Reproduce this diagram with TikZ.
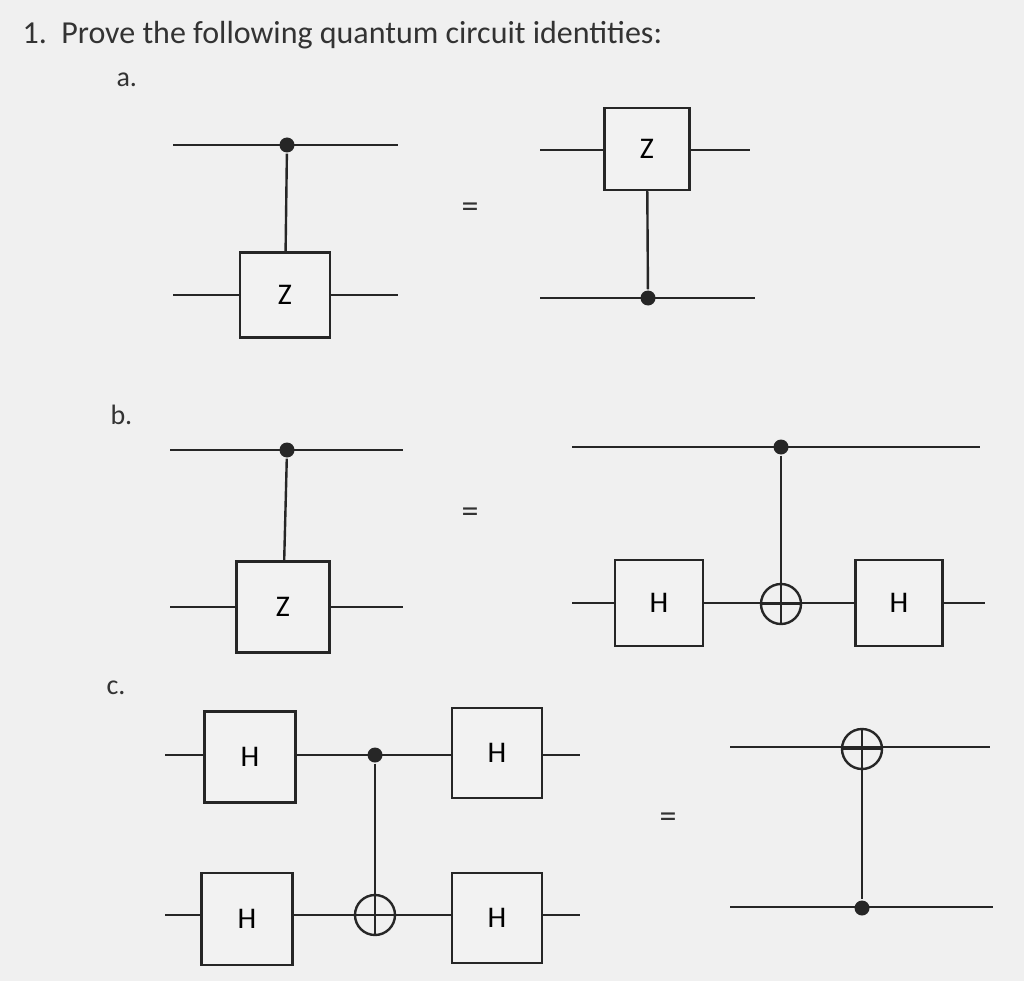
\documentclass[tikz,border=0pt]{standalone}
\usepackage{fontspec}
\setmainfont{Carlito}
\begin{document}
\begin{tikzpicture}[x=1pt,y=-1pt,line width=2.4pt,
  wire/.style={draw=black!85},
  gate/.style={draw=black!85,fill=white!90!gray,minimum width=88pt,minimum height=86pt,inner sep=0,font=\fontsize{30}{30}\selectfont},
  ctl/.style={circle,fill=black!85,minimum size=15pt,inner sep=0},
  targ/.style={circle,draw=black!85,minimum size=40pt,inner sep=0},
  lbl/.style={font=\fontsize{28}{28}\selectfont,text=black!80,anchor=west},
  eq/.style={font=\fontsize{34}{34}\selectfont,text=black!80}]
\fill[gray!12] (0,0) rectangle (1024,981);
\useasboundingbox (0,0) rectangle (1024,981);
\node[lbl,font=\fontsize{32}{32}\selectfont] (t) at (18,35) {1.\ \ Prove the following quantum circuit identities:};
\node[lbl] (la) at (112,80) {a.};
\node[lbl] (lb) at (106,415) {b.};
\node[lbl] (lc) at (102,688) {c.};
% a left
\coordinate (a1) at (173,145); \coordinate (a2) at (398,145);
\coordinate (a3) at (173,295); \coordinate (a4) at (398,295);
\draw[wire] (a1)--(a2); \draw[wire] (a3)--(a4);
\node[ctl] (ad) at (287,145) {};
\node[gate,minimum width=90pt,minimum height=85pt] (az) at (285,295) {Z};
\draw[wire] (ad)--(az);
\node[eq] (e1) at (470,210) {=};
% a right
\coordinate (b1) at (540,150); \coordinate (b2) at (750,150);
\coordinate (b3) at (540,298); \coordinate (b4) at (755,298);
\draw[wire] (b1)--(b2); \draw[wire] (b3)--(b4);
\node[gate,minimum width=85pt,minimum height=82pt] (bz) at (647,149) {Z};
\node[ctl] (bd) at (648,298) {};
\draw[wire] (bz)--(bd);
% b left
\coordinate (c1) at (170,450); \coordinate (c2) at (403,450);
\coordinate (c3) at (170,607); \coordinate (c4) at (403,607);
\draw[wire] (c1)--(c2); \draw[wire] (c3)--(c4);
\node[ctl] (cd) at (287,450) {};
\node[gate,minimum width=93pt,minimum height=91pt] (cz) at (283,607) {Z};
\draw[wire] (cd)--(cz);
\node[eq] (e2) at (470,515) {=};
% b right
\coordinate (d1) at (572,447); \coordinate (d2) at (980,447);
\coordinate (d3) at (572,603); \coordinate (d4) at (985,603);
\draw[wire] (d1)--(d2); \draw[wire] (d3)--(d4);
\node[gate] (dh1) at (659,603) {H};
\node[gate,minimum width=87pt] (dh2) at (899,603) {H};
\node[ctl] (dd) at (781,447) {};
\node[targ] (dt) at (781,604) {};
\draw[wire] (dt.west)--(dt.east);
\draw[wire] (dd)--(dt.south);
% c left
\coordinate (e1a) at (165,755); \coordinate (e2a) at (580,755);
\coordinate (e3a) at (165,915); \coordinate (e4a) at (580,915);
\draw[wire] (e1a)--(e2a); \draw[wire] (e3a)--(e4a);
\node[gate,minimum width=91pt,minimum height=91pt] (eh1) at (250,757) {H};
\node[gate,minimum width=90pt,minimum height=90pt] (eh2) at (497,753) {H};
\node[gate,minimum width=91pt,minimum height=92pt] (eh3) at (247,919) {H};
\node[gate,minimum width=90pt,minimum height=90pt] (eh4) at (497,918) {H};
\node[ctl] (ed) at (375,755) {};
\node[targ] (et) at (375,915) {};
\draw[wire] (et.west)--(et.east);
\draw[wire] (ed)--(et.south);
\node[eq] (e3) at (668,820) {=};
% c right
\coordinate (f1) at (730,747); \coordinate (f2) at (990,747);
\coordinate (f3) at (730,907); \coordinate (f4) at (993,907);
\draw[wire] (f1)--(f2); \draw[wire] (f3)--(f4);
\node[targ] (ft) at (862,749) {};
\node[ctl] (fd) at (862,908) {};
\draw[wire] (ft.west)--(ft.east);
\draw[wire] (ft.north)--(fd);
\end{tikzpicture}
\end{document}
